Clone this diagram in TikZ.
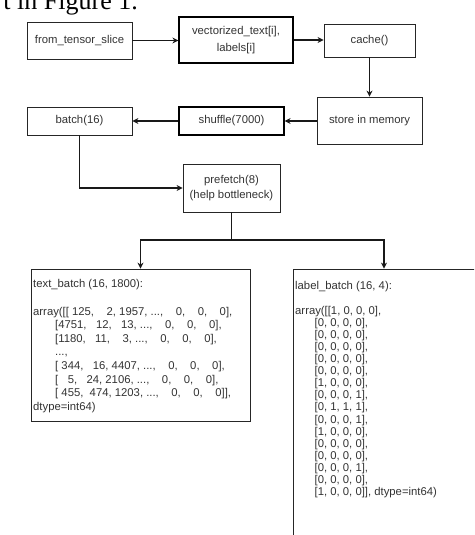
\documentclass[tikz,border=0pt]{standalone}
\usepackage{fontspec}
\setmainfont{Liberation Sans}
\newfontfamily\capserif{Liberation Serif}
\usetikzlibrary{arrows.meta}
\begin{document}
\begin{tikzpicture}[x=1pt,y=-1pt,
  box/.style={draw=black!85, line width=0.8pt, inner sep=0pt, align=center, font=\fontsize{11.3}{15}\selectfont, text=black!80},
  boldbox/.style={box, line width=1.2pt, draw=black},
  conn/.style={draw=black!90, line width=1.1pt, -{Stealth[length=6pt,width=6pt]}},
  plain/.style={draw=black!90, line width=1.1pt},
  code/.style={inner sep=0pt, align=left, font=\fontsize{11.3}{13.6}\selectfont, text=black!80},
  lcode/.style={code, font=\fontsize{11.3}{12.1}\selectfont},
]
\useasboundingbox (0,0) rectangle (474,535);
\clip (0,0) rectangle (474,535);
\fill[white] (0,0) rectangle (474,535);
\node[anchor=base east, inner sep=0pt, font=\capserif\fontsize{26}{30}\selectfont] (cap) at (138,10) {t in Figure 1.};

\node[box, minimum width=105pt, minimum height=37pt] (ftc) at (79.5,40.5) {from\_tensor\_slice};
\node[boldbox, minimum width=114pt, minimum height=46pt, font=\fontsize{11.3}{17}\selectfont] (vec) at (236,40) {vectorized\_text[i],\\labels[i]};
\node[box, minimum width=91pt, minimum height=33pt] (cache) at (369.5,40.5) {cache()};
\node[box, minimum width=105pt, minimum height=47pt] (store) at (369.5,120.5) {store in memory};
\node[boldbox, minimum width=105pt, minimum height=28pt] (shuf) at (231.5,121) {shuffle(7000)};
\node[box, minimum width=105pt, minimum height=28pt] (batch) at (79.5,121) {batch(16)};
\node[box, minimum width=97pt, minimum height=48pt] (pre) at (231.5,188) {prefetch(8)\\(help bottleneck)};

\node[box, minimum width=219pt, minimum height=152pt] (tb) at (140.5,345) {};
\node[box, minimum width=182pt, minimum height=280pt] (lb) at (384,409) {};

\node[code, anchor=base west] (tbh) at (33,287) {text\_batch (16, 1800):};
\node[code, anchor=base west] (tba) at (33,410.2) {array([[~125,~~~~2,~1957,~...,~~~~0,~~~~0,~~~~0],\\
\hspace*{22pt}[4751,~~~12,~~~13,~...,~~~~0,~~~~0,~~~~0],\\
\hspace*{22pt}[1180,~~~11,~~~~3,~...,~~~~0,~~~~0,~~~~0],\\
\hspace*{22pt}...,\\
\hspace*{22pt}[~344,~~~16,~4407,~...,~~~~0,~~~~0,~~~~0],\\
\hspace*{22pt}[~~~5,~~~24,~2106,~...,~~~~0,~~~~0,~~~~0],\\
\hspace*{22pt}[~455,~~474,~1203,~...,~~~~0,~~~~0,~~~~0]],\\
dtype=int64)};

\node[lcode, anchor=base west] (lbh) at (295,289) {label\_batch (16, 4):};
\node[lcode, anchor=base west] (lba) at (295,495.6) {array([[1, 0, 0, 0],\\
\hspace*{19.5pt}[0, 0, 0, 0],\\
\hspace*{19.5pt}[0, 0, 0, 0],\\
\hspace*{19.5pt}[0, 0, 0, 0],\\
\hspace*{19.5pt}[0, 0, 0, 0],\\
\hspace*{19.5pt}[0, 0, 0, 0],\\
\hspace*{19.5pt}[1, 0, 0, 0],\\
\hspace*{19.5pt}[0, 0, 0, 1],\\
\hspace*{19.5pt}[0, 1, 1, 1],\\
\hspace*{19.5pt}[0, 0, 0, 1],\\
\hspace*{19.5pt}[1, 0, 0, 0],\\
\hspace*{19.5pt}[0, 0, 0, 0],\\
\hspace*{19.5pt}[0, 0, 0, 0],\\
\hspace*{19.5pt}[0, 0, 0, 1],\\
\hspace*{19.5pt}[0, 0, 0, 0],\\
\hspace*{19.5pt}[1, 0, 0, 0]], dtype=int64)};

\coordinate (splity) at (0,240);
\coordinate (split) at (pre.south |- splity);

\draw[conn] (ftc.east) -- (ftc.east -| vec.west);
\draw[conn] (vec.east) -- (vec.east -| cache.west);
\draw[conn] (cache.south) -- (store.north);
\draw[conn] (shuf.east -| store.west) -- (shuf.east);
\draw[conn] (shuf.west) -- (batch.east);
\draw[conn] (batch.south) |- (pre.west);
\draw[plain] (pre.south) -- (split);
\draw[conn] (split) -| (tb.north);
\draw[conn] (split) -| (lb.north);
\end{tikzpicture}
\end{document}
